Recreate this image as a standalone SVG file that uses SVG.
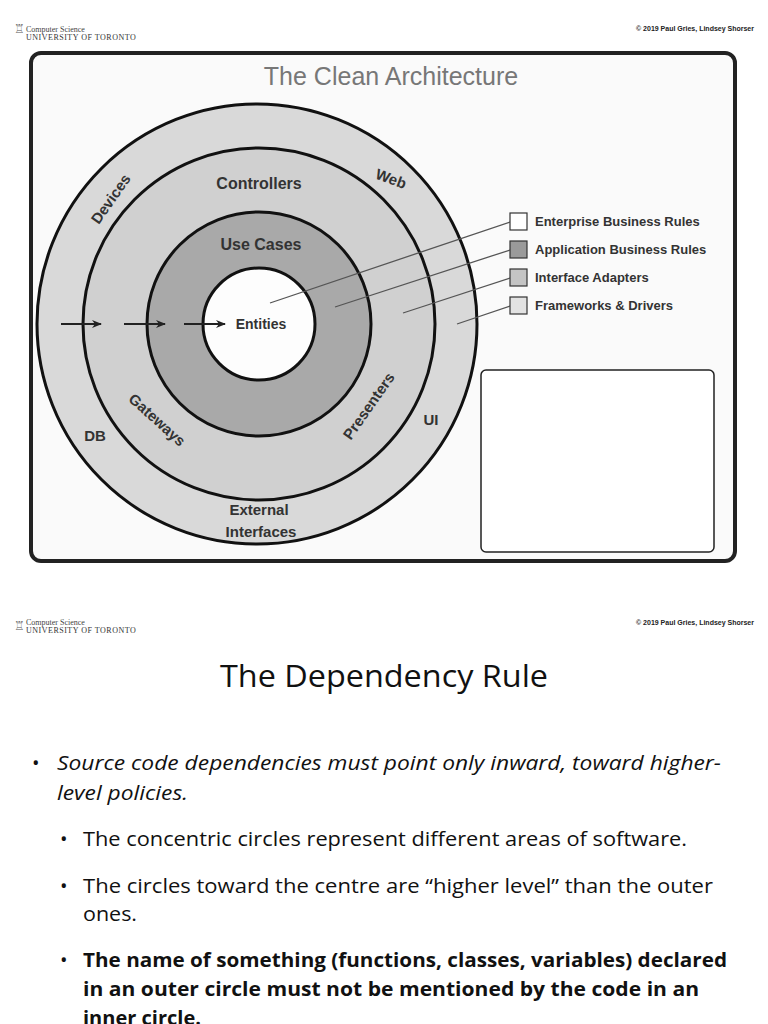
<svg xmlns="http://www.w3.org/2000/svg" width="768" height="1024" viewBox="0 0 768 1024">
<style>
.h{font-family:"Liberation Sans",Arial,sans-serif;font-weight:bold;fill:#333}
.ring{stroke:#111;stroke-width:3}
.lg{font-family:"Liberation Sans",Arial,sans-serif;font-weight:bold;font-size:13px;fill:#333}
.box{stroke:#333;stroke-width:1.2}
.ld{stroke:#555;stroke-width:1.3;fill:none}
.logo1{font-family:"Liberation Serif",serif;font-size:8px;fill:#444}
.logo2{font-family:"Liberation Serif",serif;font-size:8px;fill:#333;letter-spacing:0.5px}
.copy{font-family:"Liberation Sans",Arial,sans-serif;font-size:7px;font-weight:bold;fill:#222}
.body{font-family:"Open Sans","Liberation Sans",sans-serif;font-size:20px;fill:#111}
</style>
<defs>
<marker id="ah" markerWidth="10" markerHeight="8" refX="9" refY="4" orient="auto" markerUnits="userSpaceOnUse">
<path d="M0,0 L10,4 L0,8 L3,4 Z" fill="#222"/>
</marker>
</defs>
<rect width="768" height="1024" fill="#fff"/>
<g id="header1">
<text x="14" y="33" font-size="12" fill="#555" font-family="DejaVu Sans">♖</text>
<text x="26" y="32" class="logo1">Computer Science</text>
<text x="26" y="40" class="logo2">UNIVERSITY OF TORONTO</text>
<text x="754" y="31" text-anchor="end" class="copy">© 2019 Paul Gries, Lindsey Shorser</text>
</g>
<g id="frame">
<rect x="31" y="53" width="704" height="508" rx="10" fill="#fafafa" stroke="#222" stroke-width="4"/>
<text x="391" y="85" text-anchor="middle" font-family="Liberation Sans,Arial,sans-serif" font-size="25" fill="#777">The Clean Architecture</text>
</g>
<g id="circles">
<circle id="outer" cx="257" cy="324" r="220" fill="#d9d9d9" class="ring"/>
<circle id="controllers" cx="259" cy="324" r="176" fill="#d0d0d0" class="ring"/>
<circle id="usecases" cx="259" cy="324" r="112" fill="#a9a9a9" class="ring"/>
<circle id="entities" cx="259" cy="324" r="56" fill="#fdfdfd" class="ring"/>
</g>
<g id="labels">
<text class="h" font-size="16" x="259" y="189" text-anchor="middle">Controllers</text>
<text class="h" font-size="16" x="261" y="250" text-anchor="middle">Use Cases</text>
<text class="h" font-size="14" x="261" y="329" text-anchor="middle">Entities</text>
<text class="h" font-size="15" x="391" y="184" text-anchor="middle" transform="rotate(20 391 179)">Web</text>
<text class="h" font-size="15" x="111" y="204" text-anchor="middle" transform="rotate(-55 111 199)">Devices</text>
<text class="h" font-size="15" x="157" y="425" text-anchor="middle" transform="rotate(42 157 420)">Gateways</text>
<text class="h" font-size="15" x="369" y="411" text-anchor="middle" transform="rotate(-55 369 406)">Presenters</text>
<text class="h" font-size="15" x="431" y="425" text-anchor="middle">UI</text>
<text class="h" font-size="15" x="95" y="441" text-anchor="middle">DB</text>
<text class="h" font-size="15" x="259" y="515" text-anchor="middle">External</text>
<text class="h" font-size="15" x="261" y="537" text-anchor="middle">Interfaces</text>
</g>
<g id="connectors">
<line x1="61" y1="324" x2="101" y2="324" stroke="#222" stroke-width="1.8" marker-end="url(#ah)"/>
<line x1="124" y1="324" x2="165" y2="324" stroke="#222" stroke-width="1.8" marker-end="url(#ah)"/>
<line x1="184" y1="324" x2="225" y2="324" stroke="#222" stroke-width="1.8" marker-end="url(#ah)"/>
<line class="ld" x1="270" y1="303" x2="510" y2="222"/>
<line class="ld" x1="335" y1="307" x2="510" y2="250"/>
<line class="ld" x1="403" y1="313" x2="510" y2="278"/>
<line class="ld" x1="457" y1="324" x2="510" y2="306"/>
</g>
<g id="legend">
<rect class="box" x="510" y="213" width="17" height="17" fill="#fff"/>
<rect class="box" x="510" y="241" width="17" height="17" fill="#9a9a9a"/>
<rect class="box" x="510" y="269" width="17" height="17" fill="#c4c4c4"/>
<rect class="box" x="510" y="297" width="17" height="17" fill="#e2e2e2"/>
<text class="lg" x="535" y="226">Enterprise Business Rules</text>
<text class="lg" x="535" y="254">Application Business Rules</text>
<text class="lg" x="535" y="282">Interface Adapters</text>
<text class="lg" x="535" y="310">Frameworks &amp; Drivers</text>
</g>
<g id="blankbox">
<rect x="481" y="370" width="233" height="182" rx="5" fill="#fff" stroke="#222" stroke-width="1.5"/>
</g>
<g id="header2">
<text x="14" y="630" font-size="12" fill="#555" font-family="DejaVu Sans">♖</text>
<text x="26" y="625" class="logo1">Computer Science</text>
<text x="26" y="633" class="logo2">UNIVERSITY OF TORONTO</text>
<text x="754" y="625" text-anchor="end" class="copy">© 2019 Paul Gries, Lindsey Shorser</text>
</g>
<g id="slide2">
<text x="384" y="687" text-anchor="middle" font-family="'Open Sans','Liberation Sans',sans-serif" font-size="31" fill="#111" textLength="328" lengthAdjust="spacingAndGlyphs">The Dependency Rule</text>
<text class="body" x="32" y="770" font-size="16">•</text>
<text class="body" x="57" y="770" font-style="italic" textLength="664" lengthAdjust="spacingAndGlyphs">Source code dependencies must point only inward, toward higher-</text>
<text class="body" x="57" y="800" font-style="italic" textLength="131" lengthAdjust="spacingAndGlyphs">level policies.</text>
<text class="body" x="60" y="846" font-size="16">•</text>
<text class="body" x="83" y="846" textLength="604" lengthAdjust="spacingAndGlyphs">The concentric circles represent different areas of software.</text>
<text class="body" x="60" y="893" font-size="16">•</text>
<text class="body" x="83" y="893" textLength="630" lengthAdjust="spacingAndGlyphs">The circles toward the centre are “higher level” than the outer</text>
<text class="body" x="83" y="921" textLength="54" lengthAdjust="spacingAndGlyphs">ones.</text>
<text class="body" x="60" y="967" font-size="16">•</text>
<text class="body" x="83" y="967" font-weight="bold" textLength="644" lengthAdjust="spacingAndGlyphs">The name of something (functions, classes, variables) declared</text>
<text class="body" x="83" y="996" font-weight="bold" textLength="616" lengthAdjust="spacingAndGlyphs">in an outer circle must not be mentioned by the code in an</text>
<text class="body" x="83" y="1025" font-weight="bold" textLength="118" lengthAdjust="spacingAndGlyphs">inner circle.</text>
</g>
</svg>
